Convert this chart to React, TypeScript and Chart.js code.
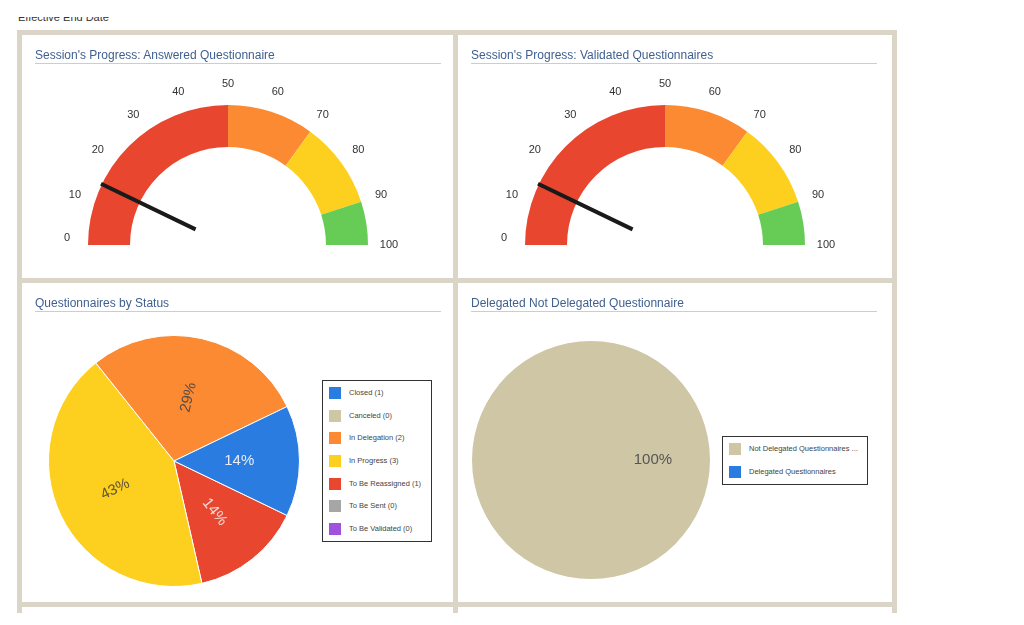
import React, { useEffect, useRef } from "react";
import { Chart, registerables } from "chart.js";

Chart.register(...registerables);

const FONT = "Arial, 'Liberation Sans', Helvetica, sans-serif";

// Dial bands of the progress gauges (share of the 0–100 scale)
const gaugeBandLabels = ["0–50", "50–70", "70–90", "90–100"];
const gaugeBandSizes = [50, 20, 20, 10];
const gaugeBandColors = ["#e8462f", "#fb8a33", "#fdd020", "#66cc55"];
const gaugeTickLabels = [0, 10, 20, 30, 40, 50, 60, 70, 80, 90, 100];
const answeredPercent = 14.3;
const validatedPercent = 14.3;

// Questionnaires by status
const statusLabels = [
  "Closed",
  "Canceled",
  "In Delegation",
  "In Progress",
  "To Be Reassigned",
  "To Be Sent",
  "To Be Validated",
];
const statusCounts = [1, 0, 2, 3, 1, 0, 0];
const statusColors = ["#2a7ce0", "#cfc6a6", "#fb8a33", "#fdd020", "#e8462f", "#a6a6a6", "#a052dc"];
const statusTextColors = ["#e8ecf6", "#555555", "#5b4c44", "#5b5234", "#f1dedb", "#555555", "#eeeeee"];

// Delegated vs not delegated
const delegationLabels = ["Not Delegated Questionnaires", "Delegated Questionnaires"];
const delegationLegendText = ["Not Delegated Questionnaires ...", "Delegated Questionnaires"];
const delegationCounts = [7, 0];
const delegationColors = ["#cfc6a6", "#2a7ce0"];
const delegationTextColors = ["#555555", "#eeeeee"];

const FRAME = "#dad5c6";

function gaugeDial(value: number) {
  return {
    id: "gaugeDial",
    afterDatasetsDraw(chart: any) {
      const ctx = chart.ctx as CanvasRenderingContext2D;
      const arc = chart.getDatasetMeta(0).data[0];
      const { x, y, outerRadius } = arc.getProps(["x", "y", "outerRadius"], true);
      ctx.save();
      ctx.font = `11px ${FONT}`;
      ctx.fillStyle = "#333333";
      ctx.textAlign = "center";
      ctx.textBaseline = "middle";
      gaugeTickLabels.forEach((t) => {
        const a = Math.PI + (t / 100) * Math.PI;
        const r = outerRadius + 21;
        const lift = t === 0 ? -7 : 0;
        ctx.fillText(String(t), x + Math.cos(a) * r, y + Math.sin(a) * r + lift);
      });
      const a = Math.PI + (value / 100) * Math.PI;
      ctx.beginPath();
      ctx.moveTo(x + Math.cos(a) * 36, y + Math.sin(a) * 36);
      ctx.lineTo(x + Math.cos(a) * (outerRadius + 1), y + Math.sin(a) * (outerRadius + 1));
      ctx.lineWidth = 4;
      ctx.strokeStyle = "#1a1a1a";
      ctx.stroke();
      ctx.restore();
    },
  };
}

function sliceLabels(textColors: string[]) {
  return {
    id: "sliceLabels",
    afterDatasetsDraw(chart: any) {
      const ctx = chart.ctx as CanvasRenderingContext2D;
      const data = chart.data.datasets[0].data as number[];
      const total = data.reduce((s, v) => s + v, 0);
      chart.getDatasetMeta(0).data.forEach((arc: any, i: number) => {
        const v = data[i];
        if (!v) return;
        const { x, y, startAngle, endAngle, outerRadius } = arc.getProps(
          ["x", "y", "startAngle", "endAngle", "outerRadius"],
          true
        );
        const mid = (startAngle + endAngle) / 2;
        const r = outerRadius * 0.52;
        let rot = mid;
        if (Math.cos(mid) < -1e-6) rot += Math.PI;
        ctx.save();
        ctx.translate(x + Math.cos(mid) * r, y + Math.sin(mid) * r);
        ctx.rotate(rot);
        ctx.font = `15px ${FONT}`;
        ctx.fillStyle = textColors[i];
        ctx.textAlign = "center";
        ctx.textBaseline = "middle";
        ctx.fillText(Math.round((v / total) * 100) + "%", 0, 0);
        ctx.restore();
      });
    },
  };
}

function gaugeConfig(value: number, padding: any) {
  return {
    type: "doughnut",
    data: {
      labels: gaugeBandLabels,
      datasets: [{ data: gaugeBandSizes, backgroundColor: gaugeBandColors, borderWidth: 0 }],
    },
    options: {
      responsive: false,
      animation: false,
      rotation: -90,
      circumference: 180,
      cutout: "70%",
      layout: { padding },
      events: [],
      plugins: { legend: { display: false }, tooltip: { enabled: false } },
    },
    plugins: [gaugeDial(value)],
  };
}

function pieConfig(
  labels: string[],
  values: number[],
  colors: string[],
  textColors: string[],
  rotation: number,
  borderWidth: number,
  padding: any
) {
  return {
    type: "pie",
    data: {
      labels,
      datasets: [
        {
          data: values,
          backgroundColor: colors,
          borderColor: "#ffffff",
          borderWidth: values.map((v) => (v ? borderWidth : 0)),
        },
      ],
    },
    options: {
      responsive: false,
      animation: false,
      rotation,
      layout: { padding },
      events: [],
      plugins: { legend: { display: false }, tooltip: { enabled: false } },
    },
    plugins: [sliceLabels(textColors)],
  };
}

// Chart.js draws clockwise; the status slices run counter-clockwise in legend order
const rev = <T,>(a: T[]) => a.slice().reverse();

function ChartCanvas({ width, height, make }: { width: number; height: number; make: () => any }) {
  const ref = useRef<HTMLCanvasElement>(null);
  useEffect(() => {
    const chart = new Chart(ref.current as HTMLCanvasElement, make());
    return () => chart.destroy();
  }, []);
  return (
    <canvas
      ref={ref}
      width={width}
      height={height}
      style={{ position: "absolute", left: 0, top: 0, width, height }}
    />
  );
}

function Panel({ left, top, width, height, title, children }: any) {
  return (
    <div style={{ position: "absolute", left, top, width, height, background: "#ffffff", overflow: "hidden" }}>
      {children}
      {title && (
        <div
          style={{
            position: "absolute",
            left: 13,
            top: 12,
            width: 406,
            height: 16,
            lineHeight: "16px",
            fontFamily: FONT,
            fontSize: 12,
            color: "#3f5f8f",
            borderBottom: "1px solid #c9cdd4",
            whiteSpace: "nowrap",
          }}
        >
          {title}
        </div>
      )}
    </div>
  );
}

function Legend({ left, top, width, height, items, colors }: any) {
  return (
    <div
      style={{
        position: "absolute",
        left,
        top,
        width,
        height,
        boxSizing: "border-box",
        border: "1px solid #333333",
        paddingTop: 5,
        background: "#ffffff",
      }}
    >
      {items.map((t: string, i: number) => (
        <div key={i} style={{ height: 22.7, position: "relative" }}>
          <div
            style={{
              position: "absolute",
              left: 6,
              top: 1,
              width: 12,
              height: 12,
              background: colors[i],
            }}
          />
          <div
            style={{
              position: "absolute",
              left: 26,
              top: 0,
              lineHeight: "14px",
              fontFamily: FONT,
              fontSize: 7.5,
              color: "#444444",
              whiteSpace: "nowrap",
            }}
          >
            {t}
          </div>
        </div>
      ))}
    </div>
  );
}

export default function App() {
  return (
    <div style={{ position: "absolute", left: 0, top: 0, width: 1024, height: 625, background: "#ffffff", overflow: "hidden" }}>
      <div style={{ position: "absolute", left: 18, top: 17, height: 6, width: 200, overflow: "hidden" }}>
        <div
          style={{
            position: "absolute",
            left: 0,
            top: -5,
            fontFamily: FONT,
            fontSize: 11,
            lineHeight: "11px",
            color: "#333333",
            whiteSpace: "nowrap",
          }}
        >
          Effective End Date
        </div>
      </div>

      <div style={{ position: "absolute", left: 17, top: 30, width: 880, height: 583, background: FRAME, overflow: "hidden" }}>
        <Panel left={5} top={5} width={431} height={243} title="Session's Progress: Answered Questionnaire">
          <ChartCanvas
            width={431}
            height={243}
            make={() => gaugeConfig(answeredPercent, { left: 66, right: 85, top: 70, bottom: 33 })}
          />
        </Panel>
        <Panel left={441} top={5} width={434} height={243} title="Session's Progress: Validated Questionnaires">
          <ChartCanvas
            width={434}
            height={243}
            make={() => gaugeConfig(validatedPercent, { left: 67, right: 87, top: 70, bottom: 33 })}
          />
        </Panel>
        <Panel left={5} top={253} width={431} height={319} title="Questionnaires by Status">
          <ChartCanvas
            width={431}
            height={319}
            make={() =>
              pieConfig(
                rev(statusLabels),
                rev(statusCounts),
                rev(statusColors),
                rev(statusTextColors),
                90 + 180 / 7,
                1,
                { left: 26, right: 153, top: 52, bottom: 15 }
              )
            }
          />
          <Legend
            left={300}
            top={97}
            width={110}
            height={162}
            items={statusLabels.map((l, i) => `${l} (${statusCounts[i]})`)}
            colors={statusColors}
          />
        </Panel>
        <Panel left={441} top={253} width={434} height={319} title="Delegated Not Delegated Questionnaire">
          <ChartCanvas
            width={434}
            height={319}
            make={() =>
              pieConfig(delegationLabels, delegationCounts, delegationColors, delegationTextColors, -90, 0, {
                left: 14,
                right: 182,
                top: 58,
                bottom: 23,
              })
            }
          />
          <Legend left={264} top={153} width={146} height={49} items={delegationLegendText} colors={delegationColors} />
        </Panel>
        <Panel left={5} top={577} width={431} height={20} />
        <Panel left={441} top={577} width={434} height={20} />
      </div>
    </div>
  );
}
